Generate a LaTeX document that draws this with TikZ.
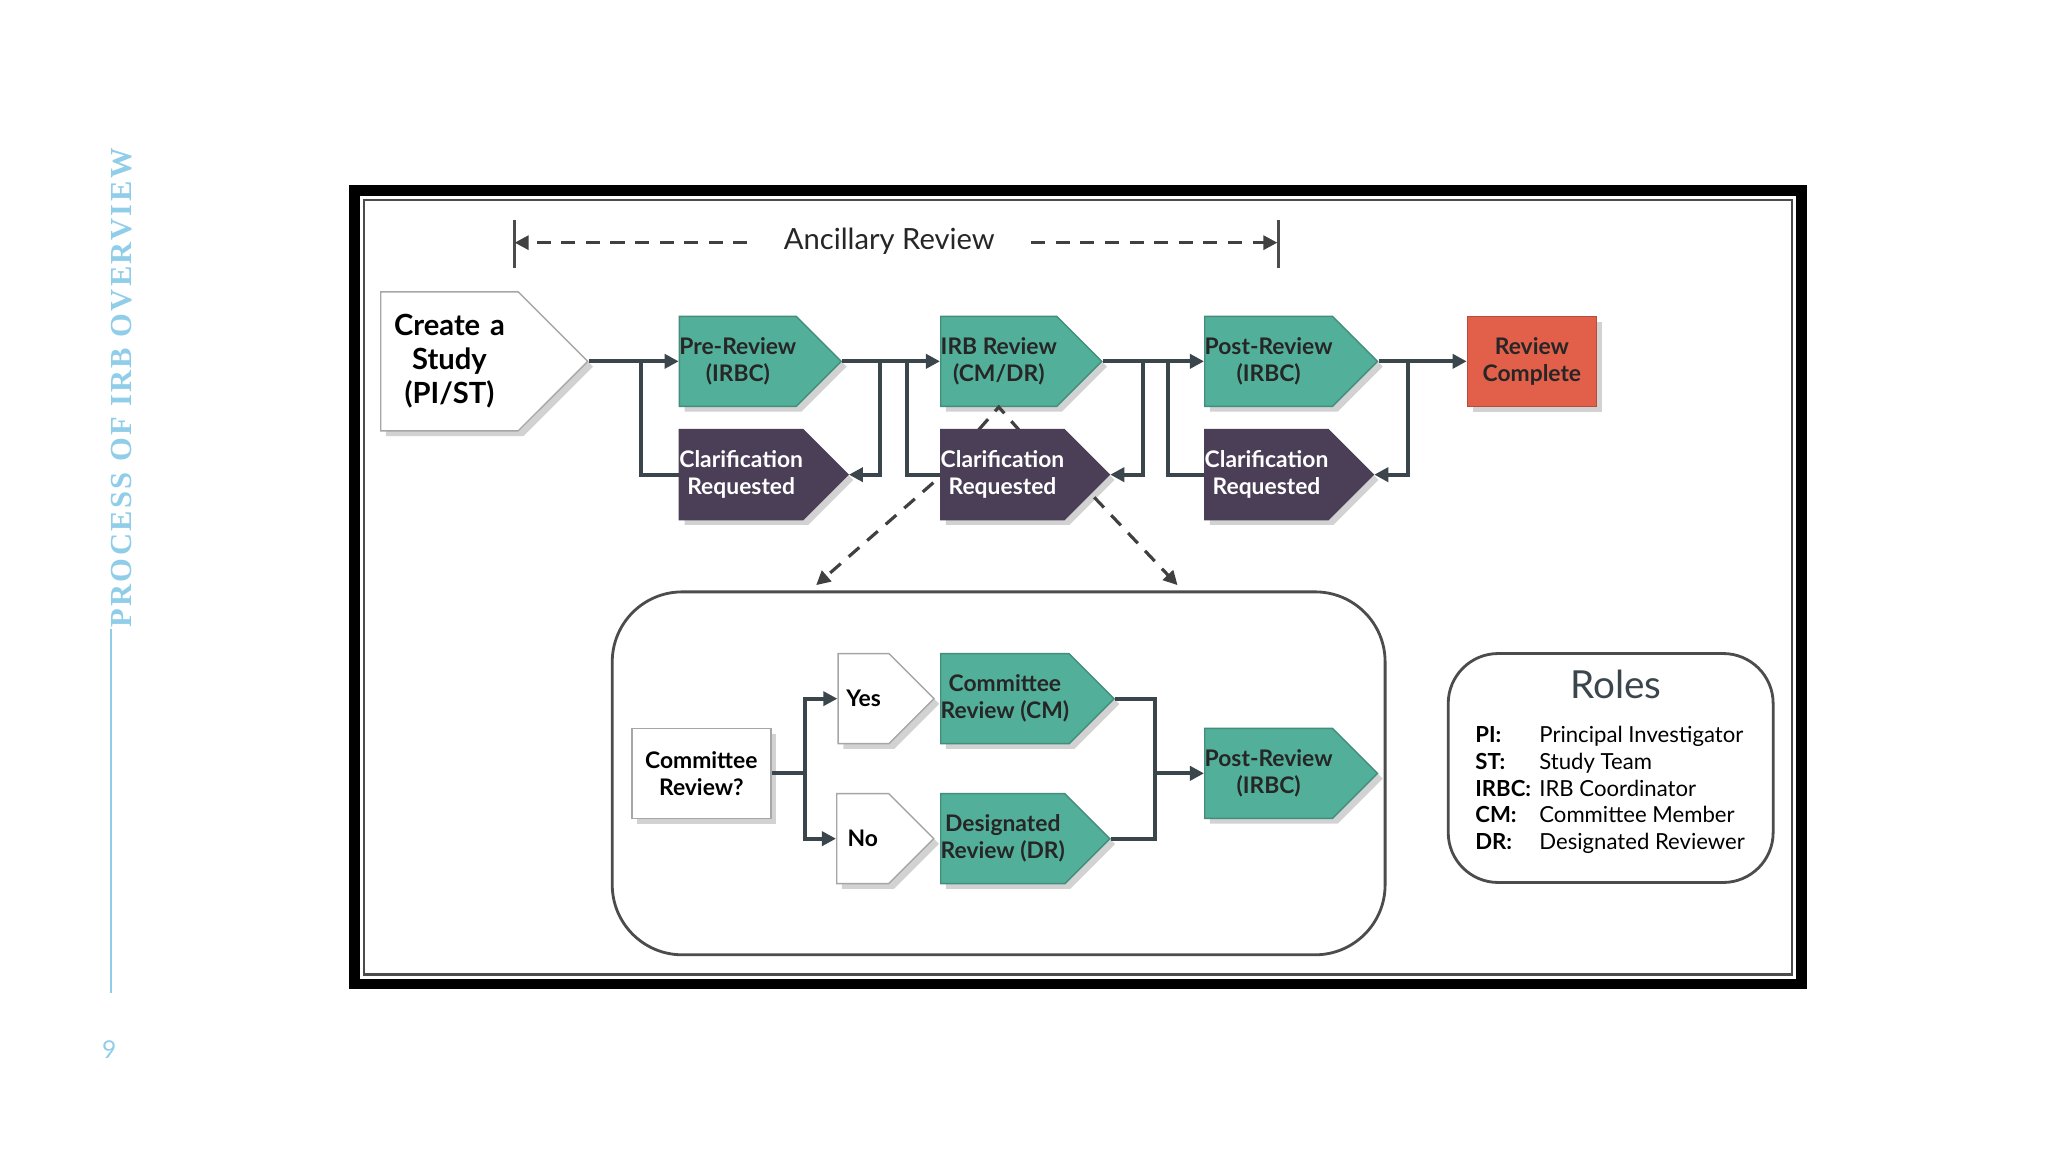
\documentclass[tikz,border=0pt]{standalone}
\usepackage{fontspec}
\setmainfont{Lato}
\newfontfamily\sidefont[LetterSpace=8]{Liberation Serif}
\usetikzlibrary{shapes.symbols,arrows.meta,shadows,calc}
\definecolor{tealc}{HTML}{52B09A}
\definecolor{plum}{HTML}{4B3F57}
\definecolor{tomato}{HTML}{E2604A}
\definecolor{lnc}{HTML}{3B464C}
\definecolor{sideblue}{HTML}{8FCDE8}
\tikzset{
  shd/.style={drop shadow={opacity=0.35,shadow xshift=1.5pt,shadow yshift=-1.5pt}},
  stepbox/.style={signal, signal to=east, signal pointer angle=90, inner sep=0pt, anchor=west,
    minimum width=1.61cm, minimum height=0.9cm, align=center,
    font=\fontsize{6.5}{7.6}\selectfont\bfseries, shd},
  gbox/.style={stepbox, fill=tealc, draw=tealc!80!black, text=black!85},
  pbox/.style={stepbox, fill=plum, draw=plum, text=white},
  wbox/.style={stepbox, fill=white, draw=gray!70, text=black},
  ln/.style={draw=lnc, line width=1.2pt},
  arr/.style={ln, -{Triangle[length=4pt,width=4pt]}},
  dsh/.style={draw=gray!50!black, line width=0.9pt, dash pattern=on 4pt off 3pt},
  dsharr/.style={dsh, -{Triangle[length=4pt,width=4pt]}},
  role/.style={anchor=base west, inner sep=0pt, font=\fontsize{6.3}{7.4}\selectfont}
}
\begin{document}
\begin{tikzpicture}[x=0.013333cm, y=-0.013333cm]
\useasboundingbox (0,0) rectangle (1536,864);
% side decoration
\node[rotate=90, text=sideblue, font=\sidefont\fontsize{8.7}{10}\selectfont\bfseries] (side) at (91,291) {PROCESS OF IRB OVERVIEW};
\draw[sideblue, line width=0.6pt] (83,472) -- (83,745);
\node[text=sideblue, font=\fontsize{7}{8}\selectfont] (pg) at (82,787) {9};
% frame
\draw[line width=3pt, fill=white] (266,143) rectangle (1351,738);
\draw[black!70, line width=0.8pt] (273,150) rectangle (1344,731);

% ancillary review
\node[font=\fontsize{8.3}{10}\selectfont, text=black!85] (anc) at (667,181) {Ancillary Review};
\coordinate (ta) at (386,182);
\coordinate (tb) at (958,182);
\draw[gray!60!black, line width=0.8pt] (386,165) -- (386,201) (959,165) -- (959,201);
\draw[dsharr] (anc.west) ++(-18,1) -- (ta);
\draw[dsharr] (anc.east) ++(18,1) -- (tb);

% main row
\node[wbox, minimum width=2.07cm, minimum height=1.39cm, font=\fontsize{8.3}{9.6}\selectfont\bfseries, text width=1.3cm] (create) at (285,271) {Create a\\Study\\(PI/ST)};
\node[gbox] (pre) at (509,271) {Pre-Review\\(IRBC)};
\node[gbox] (irb) at (705,271) {IRB Review\\(CM/DR)};
\node[gbox] (post) at (903,271) {Post-Review\\(IRBC)};
\node[fill=tomato, draw=tomato!80!black, minimum width=1.29cm, minimum height=0.9cm, align=center, anchor=west,
  font=\fontsize{6.5}{7.6}\selectfont\bfseries, text=black!85, shd] (done) at (1100,271) {Review\\Complete};

% caret behind middle clarification
\draw[dsh] ($(irb.south)+(-15,17)$) -- (irb.south) -- ($(irb.south)+(15,17)$);

\node[pbox] (cl1) at (509,356) {Clarification\\Requested};
\node[pbox] (cl2) at (705,356) {Clarification\\Requested};
\node[pbox] (cl3) at (903,356) {Clarification\\Requested};

% main connectors
\draw[arr] (create.east) -- (pre.west);
\draw[arr] (pre.east) -- (irb.west);
\draw[arr] (irb.east) -- (post.west);
\draw[arr] (post.east) -- (done.west);
\coordinate (l1) at (481,271); \coordinate (r1) at (660,271);
\coordinate (l2) at (680,271); \coordinate (r2) at (857,271);
\coordinate (l3) at (876,271); \coordinate (r3) at (1056,271);
\draw[ln] (l1) |- (cl1.west);
\draw[arr] (r1) |- (cl1.east);
\draw[ln] (l2) |- (cl2.west);
\draw[arr] (r2) |- (cl2.east);
\draw[ln] (l3) |- (cl3.west);
\draw[arr] (r3) |- (cl3.east);

% sub-process box
\node[draw=gray!60!black, line width=0.8pt, rounded corners=0.7cm, minimum width=7.73cm, minimum height=3.63cm] (sub) at (749,580) {};
\draw[dsharr] ($(cl2.west)+(-5,6)$) -- ($(sub.north west)+(154,-4)$);
\draw[dsharr] ($(cl2.east)+(-12,17)$) -- ($(sub.north west)+(425,-4)$);

\node[draw=gray!70, fill=white, minimum width=1.39cm, minimum height=0.9cm, align=center,
  font=\fontsize{6.5}{7.6}\selectfont\bfseries, shd] (cr) at (526,580) {Committee\\Review?};
\node[wbox, minimum width=0.96cm] (yes) at (628,524) {Yes};
\node[wbox, minimum width=0.97cm] (no) at (627,629) {No};
\node[gbox] (crcm) at (705,524) {Committee\\Review (CM)};
\node[gbox] (drdr) at (705,629) {Designated\\Review (DR)};
\node[gbox] (post2) at (903,580) {Post-Review\\(IRBC)};

\coordinate (sp) at (604,580);
\coordinate (mg) at (866,580);
\draw[ln] (cr.east) -- (sp);
\draw[arr] (sp) |- (yes.west);
\draw[arr] (sp) |- (no.west);
\draw[ln] (crcm.east) -| (mg);
\draw[ln] (drdr.east) -| (mg);
\draw[arr] (mg) -- (post2.west);

% roles
\node[draw=gray!60!black, line width=0.8pt, rounded corners=0.5cm, minimum width=3.25cm, minimum height=2.29cm] (roles) at (1208,576) {};
\node[font=\fontsize{11}{13}\selectfont, text=lnc] (rt) at (1212,513) {Roles};
\foreach \a/\b/\yy [count=\i] in {PI:/Principal Investigator/557, ST:/Study Team/577, IRBC:/IRB Coordinator/597, CM:/Committee Member/617, DR:/Designated Reviewer/637}{
  \node[role, font=\fontsize{6.3}{7.4}\selectfont\bfseries] (ra\i) at (1106,\yy) {\a};
  \node[role] (rb\i) at (1154,\yy) {\b};
}
\end{tikzpicture}
\end{document}
